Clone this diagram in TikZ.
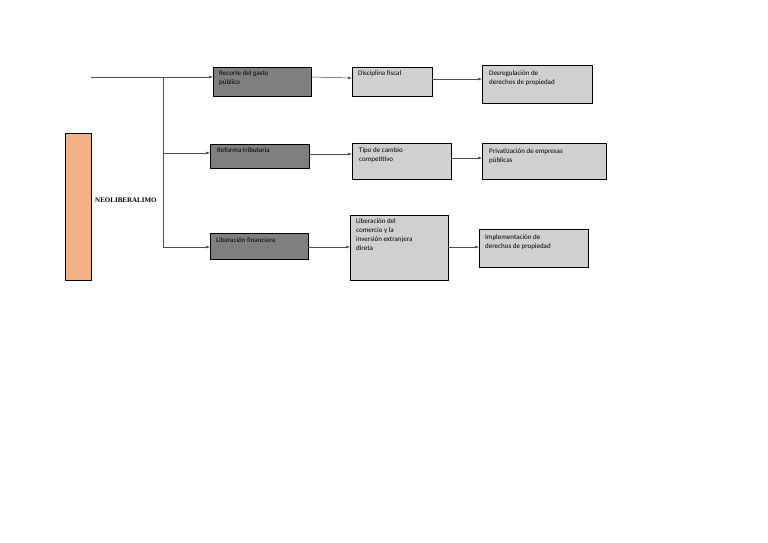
\documentclass[tikz,border=0pt]{standalone}
\usepackage{fontspec}
\setmainfont{Carlito}
\newfontfamily\serifb{Liberation Serif}
\usetikzlibrary{arrows.meta}
\definecolor{orng}{HTML}{F4B183}
\definecolor{dk}{HTML}{7F7F7F}
\definecolor{lt}{HTML}{D0D0D0}
\tikzset{
 bx/.style={draw=black,line width=0.6pt,inner sep=0pt},
 txt/.style={anchor=north west,align=left,font=\fontsize{7}{9}\selectfont,inner sep=0pt},
 ar/.style={draw=black!70,line width=0.5pt,-{Latex[length=4pt,width=3pt]}},
}
\begin{document}
\begin{tikzpicture}[x=1pt,y=-1pt]
\useasboundingbox (0,0) rectangle (768,543);
\fill[white] (0,0) rectangle (768,543);
\draw[bx,fill=orng] (65,133) rectangle (91,280);
\node[txt,font=\serifb\bfseries\fontsize{7}{9}\selectfont] (neo) at (95,198) {NEOLIBERALIMO};
% dark boxes
\draw[bx,fill=dk] (213,67) rectangle (311,96); \coordinate (a1) at (213,77); \coordinate (a1r) at (311,77);
\node[txt] at (219,70) {Recorte del gasto\\público};
\draw[bx,fill=dk] (210,144) rectangle (309,168); \coordinate (a2) at (210,153); \coordinate (a2r) at (309,154);
\node[txt] at (217,147) {Reforma tributaria};
\draw[bx,fill=dk] (210,233) rectangle (308,259); \coordinate (a3) at (210,247); \coordinate (a3r) at (308,247);
\node[txt] at (216,237) {Liberación financiera};
% light boxes
\draw[bx,fill=lt] (352,67) rectangle (432,96); \coordinate (b1) at (352,78); \coordinate (b1r) at (432,79);
\node[txt] at (358,70) {Disciplina fiscal};
\draw[bx,fill=lt] (352,143) rectangle (451,179); \coordinate (b2) at (352,154); \coordinate (b2r) at (451,158);
\node[txt] at (359,147) {Tipo de cambio\\competitivo};
\draw[bx,fill=lt] (350,215) rectangle (448,280); \coordinate (b3) at (350,247); \coordinate (b3r) at (448,247);
\node[txt] at (356,218) {Liberación del\\comercio y la\\inversión extranjera\\direta};
% right boxes
\draw[bx,fill=lt] (482,65) rectangle (592,103); \coordinate (c1) at (482,79);
\node[txt] at (489,70) {Desregulación de\\derechos de propiedad};
\draw[bx,fill=lt] (482,143) rectangle (606,179); \coordinate (c2) at (482,158);
\node[txt] at (489,148) {Privatización de empresas\\públicas};
\draw[bx,fill=lt] (479,229) rectangle (588,267); \coordinate (c3) at (479,247);
\node[txt] at (485,234) {Implementación de\\derechos de propiedad};
% connectors
\coordinate (s) at (91,77); \coordinate (t1) at (163,77); \coordinate (t3) at (163,247);
\draw[ar] (s) -- (a1);
\draw[draw=black!70,line width=0.5pt] (t1) -- (t3);
\draw[ar] (163,153) -- (a2);
\draw[ar] (t3) -- (a3);
\draw[ar] (a1r) -- (b1); \draw[ar] (a2r) -- (b2); \draw[ar] (a3r) -- (b3);
\draw[ar] (b1r) -- (c1); \draw[ar] (b2r) -- (c2); \draw[ar] (b3r) -- (c3);
\end{tikzpicture}
\end{document}
